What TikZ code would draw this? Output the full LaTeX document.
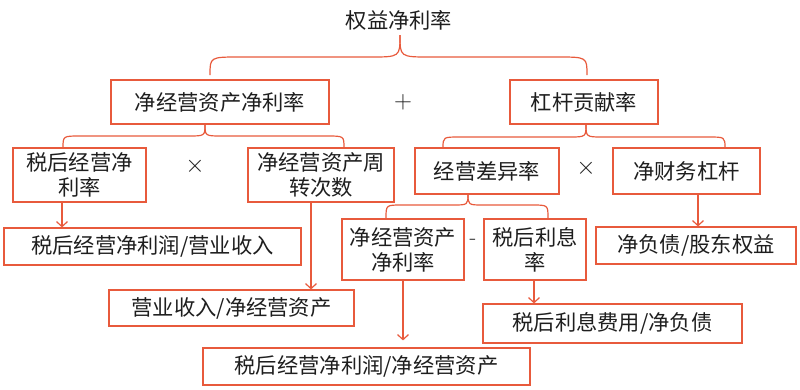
\documentclass[tikz,border=0pt]{standalone}
\usepackage{fontspec}
\newfontfamily\cjk{Noto Sans CJK SC}
\usetikzlibrary{arrows.meta}
\definecolor{orc}{HTML}{E85A3C}
\definecolor{txt}{HTML}{1E1E1E}
\tikzset{
  box/.style={draw=orc,line width=1.2pt,inner sep=0pt,align=center,text=txt,
    font=\cjk\fontsize{21.3}{25}\selectfont},
  op/.style={text=txt,inner sep=0pt,font=\fontsize{26}{28}\selectfont},
  brc/.style={draw=orc,line width=1.2pt},
  arr/.style={draw=orc,line width=1.2pt,-{Straight Barb[length=5pt,width=11pt]}}
}
\begin{document}
\begin{tikzpicture}[x=1pt,y=-1pt]
\useasboundingbox (0,0) rectangle (800,389);
\node[text=txt,inner sep=0pt,font=\cjk\fontsize{21.3}{25}\selectfont] (T) at (399,20) {权益净利率};
\node[box,minimum width=218,minimum height=44] (A) at (220,102) {净经营资产净利率};
\node[box,minimum width=148,minimum height=44] (B) at (584,102) {杠杆贡献率};
\node[op] (plus) at (403,102) {$+$};
\node[box,minimum width=133,minimum height=54] (C) at (79.5,175) {税后经营净\\利率};
\node[box,minimum width=146,minimum height=54] (D) at (321,175) {净经营资产周\\转次数};
\node[op] (x1) at (195,166) {$\times$};
\node[box,minimum width=144,minimum height=46] (E) at (487,171) {经营差异率};
\node[box,minimum width=147,minimum height=46] (F) at (686.5,171) {净财务杠杆};
\node[op] (x2) at (586,168) {$\times$};
\node[box,minimum width=297,minimum height=37] (G) at (152.5,246.5) {税后经营净利润/营业收入};
\node[box,minimum width=245,minimum height=36] (H) at (231.5,308) {营业收入/净经营资产};
\node[box,minimum width=327,minimum height=37] (I) at (366.5,366.5) {税后经营净利润/净经营资产};
\node[box,minimum width=122,minimum height=61] (J) at (403,249.5) {净经营资产\\净利率};
\node[box,minimum width=102,minimum height=61] (K) at (535,249.5) {税后利息\\率};
\node[op,font=\fontsize{22}{24}\selectfont] (minus) at (473,242) {-};
\node[box,minimum width=259,minimum height=39] (L) at (612.5,323.5) {税后利息费用/净负债};
\node[box,minimum width=200,minimum height=37] (M) at (696,245.5) {净负债/股东权益};
% braces
\coordinate (tc) at (400,35);
\draw[brc] (210,75) .. controls (210,57) .. (240,57) -- (370,57) .. controls (400,57) .. (tc);
\draw[brc] (tc) .. controls (400,57) .. (430,57) -- (557,57) .. controls (587,57) .. (587,75);
\draw[brc] (63,148) .. controls (63,136) .. (80,136) -- (188,136) .. controls (205,136) .. (205,124);
\draw[brc] (205,124) .. controls (205,136) .. (222,136) -- (327,136) .. controls (344,136) .. (344,148);
\draw[brc] (443,148) .. controls (443,137) .. (460,137) -- (569,137) .. controls (586,137) .. (586,124);
\draw[brc] (586,124) .. controls (586,137) .. (603,137) -- (708,137) .. controls (725,137) .. (725,148);
\draw[brc] (386,218) .. controls (386,205) .. (402,205) -- (452,205) .. controls (468,205) .. (468,194);
\draw[brc] (468,194) .. controls (468,205) .. (484,205) -- (532,205) .. controls (548,205) .. (548,218);
% arrows
\draw[arr] ([xshift=-17.5]C.south) -- ([xshift=-17.5]C.south |- G.north);
\draw[arr] ([xshift=-10]D.south) -- ([xshift=-10]D.south |- H.north);
\draw[arr,shorten >=7pt] (J.south) -- (J.south |- I.north);
\draw[arr] ([xshift=-1]K.south) -- ([xshift=-1]K.south |- L.north);
\draw[arr] ([xshift=11.5]F.south) -- ([xshift=11.5]F.south |- M.north);
\end{tikzpicture}
\end{document}
